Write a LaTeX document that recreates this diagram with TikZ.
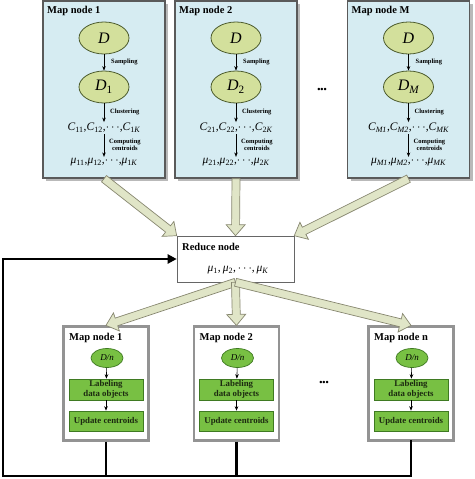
\documentclass[tikz,border=0pt]{standalone}
\usepackage{fontspec}
\setmainfont{Liberation Serif}
\usetikzlibrary{calc,shadows,arrows.meta,shapes.geometric}
\definecolor{boxblue}{HTML}{D6ECF2}
\definecolor{boxedge}{HTML}{5A5A5A}
\definecolor{ellfill}{HTML}{D3E09C}
\definecolor{elledge}{HTML}{4B5A2C}
\definecolor{grfill}{HTML}{78C043}
\definecolor{gredge}{HTML}{3F7A22}
\definecolor{grtext}{HTML}{1C2A10}
\definecolor{fatfill}{HTML}{E0E5C7}
\definecolor{fatedge}{HTML}{878770}
\newcommand\fatarrow[2]{%
  \coordinate (fh) at ($(#2)!11pt!(#1)$);
  \draw[fatarr] ($(#1)!4pt!90:(#2)$) -- ($(fh)!4pt!90:(#2)$) -- ($(fh)!9.5pt!90:(#2)$) -- (#2)
    -- ($(fh)!9.5pt!-90:(#2)$) -- ($(fh)!4pt!-90:(#2)$) -- ($(#1)!4pt!-90:(#2)$) -- cycle;}
\newcommand\sbs[1]{\textsubscript{#1}}
\begin{document}
\begin{tikzpicture}[x=1pt,y=-1pt,
  mapbox/.style={draw=boxedge, line width=1.4pt, fill=boxblue,
    drop shadow={shadow xshift=3pt,shadow yshift=-3pt,fill=gray!55,opacity=1},
    minimum width=122pt, minimum height=177pt, inner sep=0},
  ttl/.style={font=\fontsize{10.5}{12}\selectfont\bfseries, inner sep=0, anchor=west},
  ell/.style={ellipse, draw=elledge, fill=ellfill, line width=0.8pt, minimum width=50pt,
    minimum height=32pt, inner sep=0, font=\fontsize{16}{16}\selectfont\itshape},
  mrow/.style={font=\fontsize{11.5}{12}\selectfont, inner sep=1pt},
  lbl/.style={font=\fontsize{6.5}{7.5}\selectfont\bfseries, inner sep=0, align=center},
  tarr/.style={-{Stealth[length=4.5pt,width=3.5pt]}, line width=0.6pt, black},
  fatarr/.style={draw=fatedge, fill=fatfill, line width=0.7pt, line join=miter},
  bbox/.style={draw=gray!85, line width=2.2pt, fill=white, minimum width=85pt,
    minimum height=114pt, inner sep=0},
  dn/.style={ellipse, draw=gredge, fill=grfill, line width=0.7pt, minimum width=32pt,
    minimum height=19pt, inner sep=0, font=\fontsize{9}{9}\selectfont\itshape},
  gbox/.style={draw=gredge, fill=grfill, line width=0.6pt, minimum width=74pt,
    inner sep=0, align=center, text=grtext, font=\fontsize{8.8}{9.6}\selectfont\bfseries},
  fb/.style={line width=2.6pt, black, line join=miter},
  dots/.style={font=\fontsize{9}{9}\selectfont\bfseries, inner sep=0}]
\useasboundingbox (0,0) rectangle (474,479);
% top map nodes
\foreach \i/\dx/\t/\s in {1/0/1/1, 2/132/2/2, 3/304.5/M/{\itshape M}}{
  \node[mapbox] (m\i) at (104+\dx,89.5) {};
  \node[ttl] (m\i t) at (47+\dx,11) {Map node \t};
  \node[ell] (m\i d) at (104+\dx,38) {D};
  \node[ell] (m\i e) at (104+\dx,87) {D\sbs{\upshape\s}};
  \node[mrow] (m\i c) at (104+\dx,128) {\textit{C}\sbs{\s1},\textit{C}\sbs{\s2},$\cdots$,\textit{C}\sbs{\s\itshape K}};
  \node[mrow] (m\i u) at (104+\dx,162) {\textit{μ}\sbs{\s1},\textit{μ}\sbs{\s2},$\cdots$,\textit{μ}\sbs{\s\itshape K}};
  \draw[tarr] (m\i d) -- (m\i e);
  \draw[tarr] (m\i e) -- (m\i c);
  \draw[tarr] (m\i c) -- (m\i u);
  \node[lbl, anchor=west] (m\i s) at (111+\dx,62) {Sampling};
  \node[lbl, anchor=west] (m\i k) at (110+\dx,112) {Clustering};
  \node[lbl, anchor=west] (m\i p) at (109+\dx,145) {Computing\\centroids};
}
\node[dots] (dt) at (322,90) {•••};
% reduce node
\node[draw=gray!80!black, line width=0.6pt, fill=white, minimum width=117pt, minimum height=46pt, inner sep=0] (red) at (235.5,259) {};
\node[ttl] (redt) at (182,247) {Reduce node};
\node[mrow] (redu) at (238,270) {\textit{μ}\sbs{1},\,\textit{μ}\sbs{2},\,$\cdots$,\,\textit{μ}\sbs{\itshape K}};
% bottom map nodes
\foreach \i/\cx/\t in {1/106/1, 2/236.5/2, 3/411/n}{
  \node[bbox] (b\i) at (\cx,383.5) {};
  \node[ttl] (b\i t) at (\cx-37,338) {Map node \t};
  \node[dn] (b\i d) at (\cx+1,358) {D/n};
  \node[gbox, minimum height=21pt] (b\i l) at (\cx,389.5) {Labeling\\data objects};
  \node[gbox, minimum height=20pt] (b\i u) at (\cx,421) {Update centroids};
  \draw[tarr] (b\i d) -- (b\i l);
  \draw[tarr] (b\i l) -- (b\i u);
}
\node[dots] (db) at (324,383) {•••};
% fat arrows
\fatarrow{m1.south}{red.north west}
\fatarrow{m2.south}{red.north}
\fatarrow{m3.south}{red.north east}
\fatarrow{red.south}{b1.north}
\fatarrow{red.south}{b2.north}
\fatarrow{red.south}{b3.north}
% feedback
\coordinate (fbl) at (3,476);
\draw[fb] (b1.south) -- (b1.south |- fbl);
\draw[fb] (b2.south) -- (b2.south |- fbl);
\draw[fb, line cap=rect] (b3.south) -- (b3.south |- fbl) -- (fbl) -- (fbl |- red.west) -- ++(10,0);
\draw[line width=2.6pt, -{Triangle[length=9pt,width=9pt]}] ($(fbl |- red.west)+(8,0)$) -- (red.west);
\end{tikzpicture}
\end{document}
